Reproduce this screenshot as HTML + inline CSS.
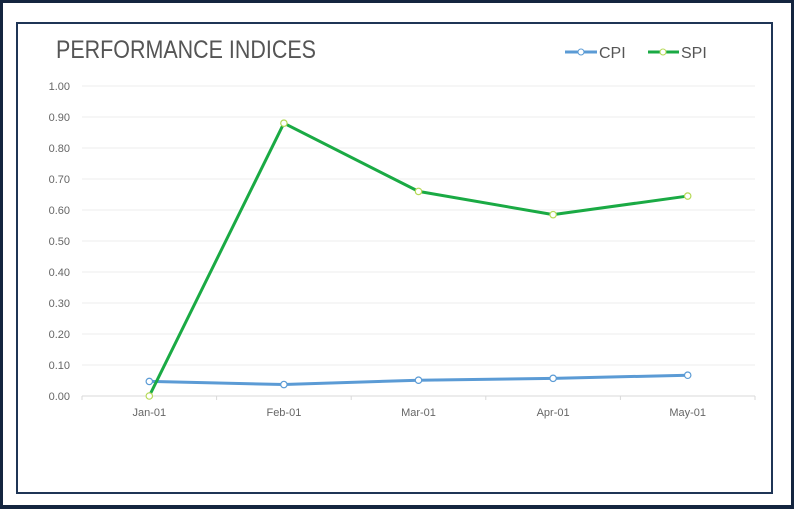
<!DOCTYPE html>
<html><head><meta charset="utf-8"><style>
body{margin:0;background:#fff;}
#wrap{position:relative;width:794px;height:509px;overflow:hidden;background:#fff;box-sizing:border-box;border:3px solid #14253f;border-bottom-width:4px;}
#inner{position:absolute;left:13px;top:19px;width:757px;height:472px;border:2px solid #1f3556;box-sizing:border-box;}
svg{position:absolute;left:-3px;top:-3px;}
text{font-family:"Liberation Sans",sans-serif;}
</style></head><body>
<div id="wrap">
<div id="inner"></div>
<svg id="chart" width="794" height="509" viewBox="0 0 794 509">
<text x="56" y="58" font-size="25" fill="#555" textLength="260" lengthAdjust="spacingAndGlyphs">PERFORMANCE INDICES</text>
<g>
<g>
<line x1="565" y1="52" x2="597" y2="52" stroke="#5b9bd5" stroke-width="3"/><circle cx="581" cy="52" r="3" fill="#fff" stroke="#5b9bd5"/>
<text x="599" y="58" font-size="16" fill="#555">CPI</text></g>
<g>
<line x1="648" y1="52" x2="679" y2="52" stroke="#1aaa44" stroke-width="3"/><circle cx="663" cy="52" r="3" fill="#fff" stroke="#b6d957"/>
<text x="681" y="58" font-size="16" fill="#555">SPI</text></g>
</g>
<g id="grid"></g><g id="axes"></g><g id="series"></g>
</svg>
</div>
<script>
const categories=["Jan-01","Feb-01","Mar-01","Apr-01","May-01"];
const cpiValues=[0.047,0.037,0.051,0.057,0.067];
const spiValues=[0.0,0.88,0.66,0.585,0.645];
const yTicks=[0,0.1,0.2,0.3,0.4,0.5,0.6,0.7,0.8,0.9,1.0];
const NS="http://www.w3.org/2000/svg";
const x0=82,x1=755,y0=396,y1=86;
const step=(x1-x0)/categories.length;
const xPos=i=>x0+step*(i+0.5);
const yPos=v=>y0-(v/1.0)*(y0-y1);
function mk(tag,attrs,parent){const e=document.createElementNS(NS,tag);for(const k in attrs)e.setAttribute(k,attrs[k]);parent.appendChild(e);return e;}
const grid=document.getElementById('grid'),axes=document.getElementById('axes'),series=document.getElementById('series');
yTicks.forEach(t=>{
 const y=yPos(t);
 if(t>0){const g=mk('line',{x1:x0,x2:x1,y1:y,y2:y,stroke:'#eeeeee','stroke-width':1},grid);
 
 }
 const l=mk('text',{x:70,y:y+4,'font-size':11,fill:'#666','text-anchor':'end'},axes);
 l.textContent=t.toFixed(2);
 
 
});
const ax=mk('line',{x1:x0,x2:x1,y1:y0,y2:y0,stroke:'#d9d9d9','stroke-width':1},axes);


for(let i=0;i<=categories.length;i++){const tk=mk('line',{x1:x0+step*i,x2:x0+step*i,y1:y0,y2:y0+4,stroke:'#d9d9d9'},axes);

}
categories.forEach((c,i)=>{const t=mk('text',{x:xPos(i),y:y0+20,'font-size':11,fill:'#666','text-anchor':'middle'},axes);
t.textContent=c;

});
function drawSeries(vals,color,mcolor,name){
 const p=mk('polyline',{points:vals.map((v,i)=>xPos(i)+','+yPos(v)).join(' '),fill:'none',stroke:color,'stroke-width':3,'stroke-linejoin':'round'},series);
 
 
 vals.forEach((v,i)=>{const c=mk('circle',{cx:xPos(i),cy:yPos(v),r:3.2,fill:'#fff',stroke:mcolor,'stroke-width':1.2},series);
 
 });
}
drawSeries(cpiValues,'#5b9bd5','#5b9bd5','cpi');
drawSeries(spiValues,'#1aaa44','#b6d957','spi');
</script>
</body></html>
